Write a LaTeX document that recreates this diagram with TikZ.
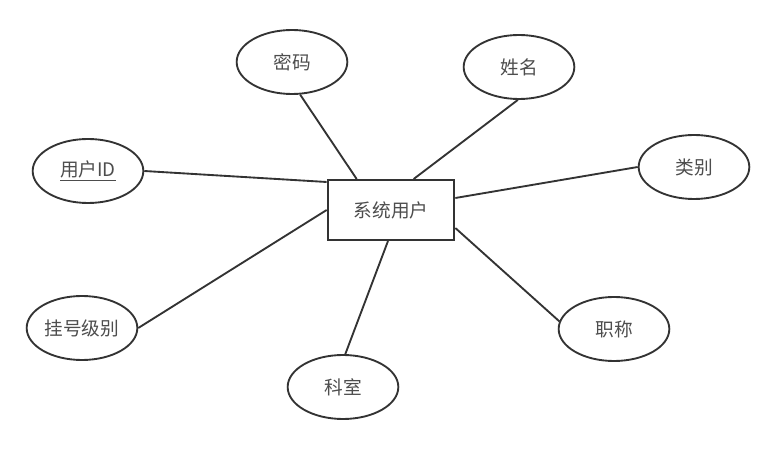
\documentclass[tikz,border=0pt]{standalone}
\usepackage{fontspec}
\setmainfont{Noto Sans CJK SC}
\usetikzlibrary{positioning,shapes.geometric,calc}
\definecolor{blk}{HTML}{333333}
\definecolor{txt}{HTML}{4D4D4D}
\tikzset{
  ent/.style={draw=blk, line width=1.5pt, fill=white, minimum width=95pt,
              minimum height=45pt, inner sep=0pt, text=txt, font=\fontsize{14}{16}\selectfont},
  attr/.style={draw=blk, line width=1.4pt, ellipse, fill=white, minimum width=83pt,
               minimum height=48pt, inner sep=0pt, text=txt, font=\fontsize{14}{16}\selectfont},
  l/.style={draw=blk, line width=1.4pt},
}
\begin{document}
\begin{tikzpicture}[x=0.75pt,y=-0.75pt]
  \useasboundingbox (0,0) rectangle (779,449);
  \node[ent] (sys) at (391,210) {系统用户};
  \node[attr] (pwd) at (292,62) {密码};
  \node[attr] (name) at (519,67) {姓名};
  \node[attr] (uid) at (88,171) {\underline{用户ID}};
  \node[attr] (cat) at (694,167) {类别};
  \node[attr] (lvl) at (82,328) {挂号级别};
  \node[attr] (title) at (614,329) {职称};
  \node[attr] (dept) at (343,387) {科室};
  \draw[l] (pwd.-76) -- ($(sys.north west)+(30,0)$);
  \draw[l] (name.-92) -- ($(sys.north west)+(87,0)$);
  \draw[l] (uid.east) -- ($(sys.north west)+(0,3)$);
  \draw[l] (cat.west) -- ($(sys.east)+(0,-12)$);
  \draw[l] (lvl.east) -- (sys.west);
  \draw[l] (title.172) -- ($(sys.east)+(0,18)$);
  \draw[l] (dept.86) -- ($(sys.south)+(-3,0)$);
\end{tikzpicture}
\end{document}
